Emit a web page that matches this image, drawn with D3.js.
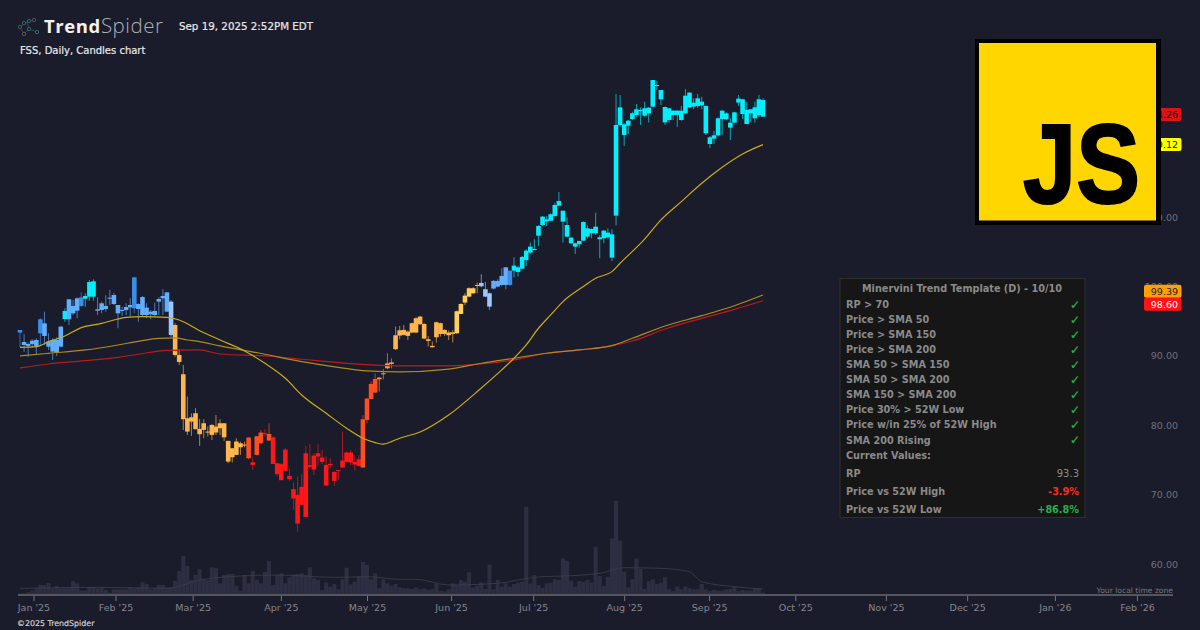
<!DOCTYPE html>
<html>
<head>
<meta charset="utf-8">
<script src="https://cdn.jsdelivr.net/npm/d3@7/dist/d3.min.js"></script>
<style>
  html, body { margin: 0; padding: 0; background: #1b1c2b; }
  svg { display: block; }
  text { font-family: "DejaVu Sans", sans-serif; }
</style>
</head>
<body>
<svg id="chart" width="1200" height="630"></svg>
<script>
// Candle prices, one entry per trading day
const bodyTop = [
  93.72,91.99,91.70,92.18,92.28,95.26,94.68,92.04,92.28,92.28,94.20,96.46,98.14,97.18,98.28,98.42,98.62,100.63,100.73,96.70,
  97.56,97.18,98.38,98.76,97.32,96.60,97.03,97.32,101.30,97.46,98.47,96.94,96.36,96.46,98.18,98.62,99.14,97.80,94.44,90.12,
  87.34,81.00,81.14,81.72,79.46,80.28,79.08,80.04,79.80,80.28,80.28,77.74,76.68,77.64,77.40,77.21,78.22,74.66,78.41,78.94,
  78.84,78.74,78.26,74.52,74.38,76.49,72.70,70.78,69.96,71.11,75.96,74.23,75.62,75.96,75.34,74.28,74.42,73.27,73.56,74.90,
  76.06,76.06,74.71,75.10,80.86,83.83,85.94,86.66,86.86,87.48,88.92,89.06,92.96,93.68,93.73,93.49,94.69,95.41,95.65,94.59,
  92.39,91.43,94.83,94.69,93.73,93.35,93.39,96.42,97.47,98.67,99.73,99.73,100.21,100.50,99.59,99.01,100.79,100.79,101.51,102.75,
  102.27,102.99,102.75,104.24,105.15,105.73,105.39,108.71,110.05,109.67,110.39,111.73,112.31,110.91,108.85,107.03,106.21,106.55,109.28,108.37,
  108.27,108.61,107.07,108.03,107.75,107.51,123.26,125.80,123.36,123.88,124.94,125.52,125.42,125.66,125.76,129.74,129.02,128.30,125.85,125.66,
  125.32,125.32,125.32,127.48,127.92,126.48,127.10,126.62,126.00,121.48,121.77,124.22,125.32,124.94,123.60,125.08,127.05,126.96,125.42,125.52,
  125.80,126.96,126.86
];
const bodyBottom = [
  93.34,91.56,91.42,91.70,91.42,93.24,92.86,91.32,90.60,90.46,91.32,95.30,95.26,96.12,96.50,97.18,98.23,98.52,98.52,96.50,
  96.60,96.74,98.23,97.46,96.12,96.50,96.60,96.98,96.84,96.74,95.88,95.88,95.98,95.88,97.80,98.28,96.36,93.00,90.12,89.11,
  80.86,79.08,80.52,79.42,78.70,79.32,78.98,78.60,78.94,79.56,78.26,74.76,75.38,75.72,76.82,77.11,75.24,74.28,75.72,77.40,
  78.74,77.78,74.42,72.94,72.07,73.42,72.22,69.43,65.83,68.52,66.79,73.99,73.61,75.48,74.71,71.30,74.23,71.98,73.42,73.90,
  74.71,74.62,74.33,74.14,73.90,80.76,83.78,84.70,86.62,87.38,88.20,88.82,90.95,92.91,93.01,92.87,93.35,93.35,94.55,92.48,
  92.15,91.23,92.67,93.15,93.15,92.96,93.15,93.25,96.03,97.67,98.53,99.01,100.11,100.02,98.53,97.09,99.69,99.97,100.21,100.21,
  100.21,102.27,102.08,102.56,103.81,104.87,105.30,107.31,108.85,109.38,109.47,110.15,111.63,109.33,107.17,106.21,105.73,106.07,106.59,107.17,
  107.65,107.65,106.79,106.93,107.07,104.15,110.20,123.26,121.82,123.16,124.12,124.70,125.32,124.60,124.94,125.90,128.92,126.96,123.64,123.98,
  124.70,124.70,123.98,124.94,125.80,125.90,126.00,126.09,122.06,120.52,121.29,121.77,124.12,124.08,122.88,123.60,126.48,124.84,123.40,124.94,
  124.22,124.70,124.46
];
const candleHigh = [
  93.72,93.14,91.90,92.38,92.52,95.40,96.36,93.24,92.52,92.66,94.30,96.84,98.14,98.04,98.42,99.14,99.00,100.92,101.02,98.42,
  97.80,98.71,99.48,99.10,97.32,97.08,97.56,98.28,101.40,97.56,98.62,97.56,96.60,97.66,98.42,99.58,99.14,98.04,94.68,90.98,
  88.68,84.12,81.72,82.44,80.90,80.86,79.80,80.14,81.48,80.86,80.28,77.74,76.68,78.12,77.64,77.64,78.26,75.38,78.41,79.32,
  79.42,80.28,78.36,74.52,74.52,76.68,73.70,71.74,72.60,72.94,77.02,77.30,75.96,77.26,76.44,75.48,75.24,73.37,73.56,79.08,
  76.20,76.44,75.62,75.72,81.48,83.93,86.28,87.48,86.90,88.06,90.36,89.64,94.21,94.31,94.45,93.63,94.79,95.55,95.75,94.69,
  92.87,92.05,94.93,94.79,93.83,93.63,93.73,96.51,97.57,99.01,99.87,99.87,100.55,101.75,100.64,99.11,100.93,101.03,102.61,102.75,
  102.27,104.19,102.95,104.39,105.35,106.31,106.79,108.80,110.15,110.15,110.53,112.07,113.60,110.91,109.95,107.17,106.31,106.59,109.38,108.80,
  108.37,110.63,107.41,108.13,108.37,108.23,127.72,127.58,123.50,123.98,125.18,126.28,125.80,126.62,125.80,129.74,129.64,128.30,125.90,125.76,
  125.42,125.42,126.00,128.40,128.01,127.10,127.72,127.34,126.04,121.68,122.40,124.32,125.42,125.08,124.22,125.18,127.58,127.05,126.52,125.52,
  126.62,127.58,127.10
];
const candleLow = [
  91.22,90.60,89.88,91.22,90.26,91.42,91.56,90.84,89.40,89.98,91.22,94.92,94.44,95.88,95.40,97.08,97.08,97.94,97.94,95.88,
  96.12,96.36,97.32,97.32,93.96,95.74,95.88,95.64,96.12,94.92,95.64,95.40,95.26,95.64,95.88,95.88,96.36,92.76,89.88,88.68,
  79.32,78.60,78.46,79.42,77.02,78.12,78.36,77.88,78.60,78.60,77.74,74.52,74.62,75.72,75.72,76.82,75.10,73.56,75.62,77.30,
  78.36,77.78,74.42,72.60,72.07,73.32,71.93,67.80,64.63,68.52,66.79,73.80,72.84,74.14,74.42,71.30,73.85,71.26,72.12,73.90,
  74.62,74.28,73.46,74.04,73.90,80.28,83.74,84.60,84.84,86.62,88.06,88.20,90.85,92.39,92.91,92.29,93.25,93.25,94.45,92.39,
  91.33,91.19,91.91,92.77,92.87,92.29,91.91,93.15,96.03,97.33,98.43,98.91,99.01,99.87,98.43,96.61,99.59,99.87,100.07,99.59,
  100.07,101.31,101.41,102.47,102.95,104.67,105.20,105.83,108.71,108.71,109.38,110.05,111.59,106.31,107.07,106.11,104.67,105.59,106.50,106.93,
  106.93,107.41,104.05,106.21,106.79,103.67,108.76,123.02,120.24,121.96,123.98,124.46,123.26,124.46,123.60,125.80,128.30,126.14,123.26,123.60,
  123.98,123.02,123.88,124.84,125.71,125.52,125.66,125.52,121.82,119.95,120.52,121.68,121.82,123.98,121.10,123.50,126.00,124.12,123.40,123.74,
  123.60,124.46,124.46
];

// Volume in thousands of shares, same days as the candles
const volume = [
  42,42,68,108,168,250,250,300,168,225,168,168,168,350,292,108,108,200,200,168,
  200,125,58,142,142,142,142,200,168,192,318,275,142,168,250,250,192,192,350,600,
  975,725,375,500,642,375,375,692,668,292,500,525,525,225,108,500,292,600,375,292,
  575,850,250,500,542,292,442,508,525,542,500,692,418,375,125,308,208,275,142,392,
  682,268,332,458,825,758,392,542,168,392,292,225,275,192,168,168,150,192,142,168,
  125,150,275,100,92,142,292,250,375,332,568,182,232,318,150,758,142,375,208,292,
  208,275,308,332,2208,292,500,250,182,292,308,392,375,918,850,358,208,350,325,375,
  308,1208,475,225,458,1418,2358,1358,582,192,392,908,650,150,342,392,275,308,442,142,
  100,208,142,208,168,142,142,275,142,100,125,108,108,142,150,200,100,125,108,108,
  168,168,58
];

// Rank tier of each stretch of candles: [tier, how many days]
const tierRuns = [
  ["mid",1],["sky",4],["mid",1],["sky",5],["cyan",1],["sky",3],["mid",1],["cyan",3],["sky",9],["mid",1],
  ["sky",8],["pale",1],["amber",18],["ember",1],["red",1],["ember",2],["red",1],["ember",1],["red",22],["ember",4],
  ["tangerine",4],["amber",15],["gold",5],["amber",1],["pale",3],["sky",4],["mid",1],["cyan",62]
];
const tierColors = {
  cyan: "#00f0ff", sky: "#62aeff", mid: "#3b8ee8", pale: "#9cc8ff",
  amber: "#ffb64f", gold: "#ffd05c", tangerine: "#ff9a3c", ember: "#ff4e20", red: "#ff1616"
};

// Moving averages, sampled at these days
const sma50Days = [0,4,7,11,15,20,23,26,30,36,39,44,49,55,60,65,69,75,80,84,87,89,91,93,98,105,113,118,121,124,127,130,133,138,141,145,147,153,157,162,167,172,177,182];
const sma50 = [91.22,91.32,92.04,92.86,94.06,94.68,95.16,95.54,95.64,95.54,95.16,93.62,92.28,90.70,88.92,86.76,84.36,81.72,79.56,78.12,77.50,77.26,77.64,78.12,79.02,81.47,85.36,87.97,89.65,91.57,93.97,95.89,97.81,99.97,101.17,102.13,103.33,106.80,109.58,112.22,114.86,117.16,119.08,120.43];
const sma150Days = [0,7,16,24,29,34,38,41,44,49,60,69,78,85,93,105,113,121,129,137,145,150,158,167,175,182];
const sma150 = [89.98,90.36,90.84,91.56,92.09,92.52,92.57,92.28,92.04,91.42,90.22,89.16,88.34,87.82,87.67,88.07,88.93,89.65,90.37,90.85,91.46,92.52,94.29,95.78,97.22,98.76];
const sma200Days = [0,7,16,24,29,36,44,49,60,69,78,85,93,96,105,113,121,129,137,145,150,158,167,175,182];
const sma200 = [88.25,88.82,89.30,89.78,90.22,90.79,90.84,90.26,89.98,89.50,89.02,88.73,88.54,88.55,88.55,88.83,89.41,90.37,90.85,91.46,92.13,93.86,95.40,96.70,97.94];
const volumeAvgDays = [0,20,36,44,54,63,77,85,93,97,105,117,126,138,142,148,157,164,167,175,182];
const volumeAvg = [167,192,167,375,475,500,442,458,392,392,250,292,442,500,542,683,667,583,333,208,150];

// Axes
const monthTicks = [3.3,23.4,42.3,63.9,85,105.6,125.7,148,168.8,189.9,212.1,232,253.5,273.6];
const monthLabels = ["Jan '25","Feb '25","Mar '25","Apr '25","May '25","Jun '25","Jul '25","Aug '25","Sep '25","Oct '25","Nov '25","Dec '25","Jan '26","Feb '26"];
const priceTicks = [60,70,80,90,100,110];

// Last-value tags on the price axis
const tagText = ["124.26","120.12","99.39","98.60"];
const tagPrice = [124.76,120.46,99.31,98.60];
const tagFill = ["#dc1414","#ffff00","#ff9f00","#ff1414"];
const tagInk = ["#2a1010","#222222","#222222","#ffffff"];

// Minervini checklist
const checkRows = ["RP > 70","Price > SMA 50","Price > SMA 150","Price > SMA 200","SMA 50 > SMA 150","SMA 50 > SMA 200","SMA 150 > SMA 200","Price 30% > 52W Low","Price w/in 25% of 52W High","SMA 200 Rising"];
const valueRows = ["RP","Price vs 52W High","Price vs 52W Low"];
const valueText = ["93.3","-3.9%","+86.8%"];
const valueColors = ["#8c8c8c","#ff2a1a","#25b04c"];

const svg = d3.select("#chart");

const x = d3.scaleLinear().domain([0, 182]).range([20, 763]);
const y = d3.scaleLinear().domain([60, 110]).range([564, 217]);
const yVol = d3.scaleLinear().domain([0, 2350]).range([595, 501]);

const tiers = tierRuns.flatMap(([tier, n]) => d3.range(n).map(() => tier));

// Background
svg.append("rect").attr("width", 1200).attr("height", 630).attr("fill", "#1b1c2b");

// Volume bars
svg.append("g").selectAll("rect")
  .data(volume)
  .enter().append("rect")
  .attr("x", (d, i) => x(i) - 2.05)
  .attr("y", d => yVol(d))
  .attr("width", 4.1)
  .attr("height", d => yVol(0) - yVol(d))
  .attr("fill", "#2d2e42");

svg.append("path")
  .datum(volumeAvg)
  .attr("fill", "none")
  .attr("stroke", "#3e3f4a")
  .attr("stroke-width", 0.8)
  .attr("d", d3.line().x((d, i) => x(volumeAvgDays[i])).y(d => yVol(d)).curve(d3.curveMonotoneX));

// Wicks go under every body
svg.append("g").selectAll("line")
  .data(candleHigh)
  .enter().append("line")
  .attr("x1", (d, i) => x(i))
  .attr("x2", (d, i) => x(i))
  .attr("y1", d => y(d))
  .attr("y2", (d, i) => y(candleLow[i]))
  .attr("stroke", (d, i) => tierColors[tiers[i]])
  .attr("stroke-opacity", 0.6)
  .attr("stroke-width", 1.1);

svg.append("g").selectAll("rect")
  .data(bodyTop)
  .enter().append("rect")
  .attr("x", (d, i) => x(i) - 2.3)
  .attr("y", d => y(d))
  .attr("width", 4.6)
  .attr("height", (d, i) => Math.max(1, y(bodyBottom[i]) - y(d)))
  .attr("fill", (d, i) => tierColors[tiers[i]]);

// Moving averages
const smaLine = days => d3.line().x((d, i) => x(days[i])).y(d => y(d)).curve(d3.curveMonotoneX);
[
  { values: sma200, days: sma200Days, color: "#bc1a1a" },
  { values: sma150, days: sma150Days, color: "#b08a1c" },
  { values: sma50, days: sma50Days, color: "#c9ad12" }
].forEach(s => {
  svg.append("path")
    .datum(s.values)
    .attr("fill", "none")
    .attr("stroke", s.color)
    .attr("stroke-width", 1.2)
    .attr("d", smaLine(s.days));
});

// Time axis
const xAxis = d3.axisBottom(x)
  .tickValues(monthTicks)
  .tickFormat((d, i) => monthLabels[i])
  .tickSize(6)
  .tickSizeOuter(0);
const xAxisG = svg.append("g").attr("transform", "translate(0,595)").call(xAxis);
xAxisG.select(".domain").remove();
xAxisG.selectAll("line").attr("stroke", "#77777f");
xAxisG.selectAll("text").attr("fill", "#85858c").attr("font-family", "DejaVu Sans").attr("font-size", 9.5);
svg.append("line")
  .attr("x1", 18).attr("x2", 1173).attr("y1", 595).attr("y2", 595)
  .attr("stroke", "#55555e").attr("stroke-width", 2);

// Price axis
const yAxis = d3.axisRight(y).tickValues(priceTicks).tickFormat(d3.format(".2f")).tickSize(0);
const yAxisG = svg.append("g").attr("transform", "translate(1178,0)").call(yAxis);
yAxisG.select(".domain").remove();
yAxisG.selectAll("text")
  .attr("x", 0)
  .attr("text-anchor", "end")
  .attr("fill", "#70707a")
  .attr("font-family", "DejaVu Sans")
  .attr("font-size", 9.5);

// Tags: a tag that would overlap the one above gets pushed down
let lastTagY = -Infinity;
tagText.forEach((t, i) => {
  const tagY = Math.max(y(tagPrice[i]), lastTagY + 13);
  lastTagY = tagY;
  const g = svg.append("g").attr("transform", `translate(1144,${tagY})`);
  g.append("rect").attr("x", 0).attr("y", -6.5).attr("width", 37.5).attr("height", 13).attr("rx", 2).attr("fill", tagFill[i]);
  g.append("text").attr("x", 34).attr("y", 3.4).attr("text-anchor", "end")
    .attr("font-size", 9.5).attr("fill", tagInk[i]).text(t);
});

// Header
const icon = svg.append("g").attr("fill", "none").attr("stroke", "#2f4f56").attr("stroke-width", 0.9);
icon.append("path").attr("d", "M20 27 L27 22 L33 20 M27 22 L29 29 L37 32 M29 29 L24 34 M20 27 L24 34");
[[20,27,"#5a5a5a"],[24,23,"#2f6f78"],[29,21,"#2f6f78"],[34,20,"#5a5a5a"],[29,29,"#2f6f78"],[37,32,"#2f6f78"],[24,34,"#5a5a5a"]].forEach(p => {
  icon.append("circle").attr("cx", p[0]).attr("cy", p[1]).attr("r", 1.7).attr("fill", "#1b1c2b").attr("stroke", p[2]);
});
const brand = svg.append("text").attr("x", 44).attr("y", 33).attr("fill", "#f2f2f2");
brand.append("tspan").attr("font-size", 18.5).attr("font-weight", 700).attr("letter-spacing", 0.6).attr("style", "font-family: 'Open Sans'").text("Trend");
brand.append("tspan").attr("font-size", 20.5).attr("font-weight", 300).attr("letter-spacing", 0.5).attr("fill", "#b0b0b4").attr("style", "font-family: 'Open Sans'").text("Spider");
svg.append("text").attr("x", 179).attr("y", 30).attr("font-size", 10.3).attr("stroke", "#e8e8e8").attr("stroke-width", 0.2).attr("fill", "#e8e8e8").text("Sep 19, 2025 2:52PM EDT");
svg.append("text").attr("x", 20).attr("y", 54).attr("font-size", 10).attr("stroke", "#e8e8e8").attr("stroke-width", 0.2).attr("fill", "#e8e8e8").text("FSS, Daily, Candles chart");
svg.append("text").attr("x", 17).attr("y", 626).attr("font-size", 7.9).attr("stroke", "#d8d8d8").attr("stroke-width", 0.15).attr("fill", "#d8d8d8").text("©2025 TrendSpider");
svg.append("text").attr("x", 1173).attr("y", 593).attr("text-anchor", "end").attr("font-size", 7.6).attr("fill", "#77777f").text("Your local time zone");

// Checklist panel
const panel = svg.append("g");
const panelText = sel => sel.attr("font-size", 9.7).attr("font-weight", 700).attr("fill", "#8a8a8a");
panel.append("rect").attr("x", 840).attr("y", 278.5).attr("width", 245).attr("height", 239)
  .attr("fill", "#161616").attr("stroke", "#2e3030");
panel.append("text").attr("x", 962).attr("y", 291.5).attr("text-anchor", "middle")
  .call(panelText).text("Minervini Trend Template (D) - 10/10");
const rowY = d3.scaleLinear().domain([0, 9]).range([308, 443.5]);
checkRows.forEach((r, i) => {
  panel.append("text").attr("x", 846).attr("y", rowY(i)).call(panelText).text(r);
  panel.append("text").attr("x", 1075).attr("y", rowY(i) + 0.5).attr("text-anchor", "middle")
    .attr("font-size", 12).attr("fill", "#25b04c").attr("stroke", "#25b04c").attr("stroke-width", 0.3).text("✓");
});
panel.append("text").attr("x", 846).attr("y", 459).call(panelText).text("Current Values:");
const valueY = d3.scaleLinear().domain([0, 2]).range([476.5, 512.5]);
valueRows.forEach((r, i) => {
  panel.append("text").attr("x", 846).attr("y", valueY(i)).call(panelText).text(r);
  panel.append("text").attr("x", 1079).attr("y", valueY(i)).attr("text-anchor", "end").attr("font-size", i === 0 ? 10 : 9.7)
    .attr("font-weight", i === 0 ? 400 : 700)
    .attr("fill", valueColors[i]).text(valueText[i]);
});

// JS badge
svg.append("rect").attr("x", 975).attr("y", 39).attr("width", 186).attr("height", 186).attr("fill", "#000");
svg.append("rect").attr("x", 979).attr("y", 43).attr("width", 177).attr("height", 177.5).attr("fill", "#ffd600");
svg.append("text").attr("x", 1023).attr("y", 203).attr("style", "font-family: 'Liberation Sans'").attr("font-size", 114)
  .attr("font-weight", 700).attr("fill", "#000").attr("stroke", "#000").attr("stroke-width", 2.2)
  .attr("textLength", 117).attr("lengthAdjust", "spacingAndGlyphs").text("JS");
</script>
</body>
</html>
